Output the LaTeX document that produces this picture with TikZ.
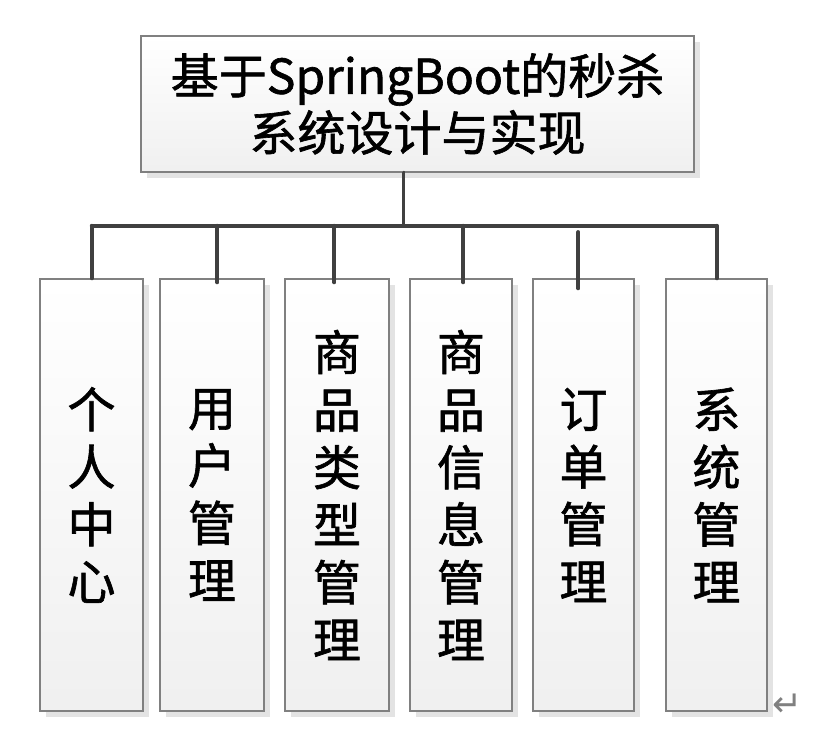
\documentclass[tikz,border=0pt]{standalone}
\usepackage{fontspec}
\setmainfont{Noto Sans CJK SC}
\newfontfamily\cjkb[FakeBold=1.3]{Noto Sans CJK SC}
\newfontfamily\symfont{DejaVu Sans}
\usetikzlibrary{shadows}
\tikzset{
  box/.style={draw=black!50, line width=1.3pt, top color=white, bottom color=black!6,
    drop shadow={shadow xshift=5.5pt, shadow yshift=-5.5pt, fill=black!11, opacity=1},
    inner sep=0pt, align=center, text=black},
  subbox/.style={box, minimum height=432pt,
    font=\cjkb\fontsize{48}{57.5}\selectfont},
  conn/.style={draw=black!75, line width=3.8pt, line cap=round}
}
\begin{document}
\begin{tikzpicture}[x=1pt,y=-1pt]
\useasboundingbox (0,0) rectangle (826,739);
\node[box, minimum width=553pt, minimum height=136pt,
  font=\cjkb\fontsize{48}{57}\selectfont] (top) at (417.5,104) {基于SpringBoot的秒杀\\系统设计与实现};
\node[subbox, minimum width=103pt] (b1) at (91.5,495) {个\\人\\中\\心};
\node[subbox, minimum width=104pt] (b2) at (212,495) {用\\户\\管\\理};
\node[subbox, minimum width=104pt] (b3) at (337,495) {商\\品\\类\\型\\管\\理};
\node[subbox, minimum width=102pt] (b4) at (461,495) {商\\品\\信\\息\\管\\理};
\node[subbox, minimum width=101pt] (b5) at (583.5,495) {订\\单\\管\\理};
\node[subbox, minimum width=101pt] (b6) at (716.5,495) {系\\统\\管\\理};
% bus coordinates
\coordinate (j0) at (403.5,225.7);
\coordinate (j1) at (91.7,225.7);
\coordinate (j2) at (217.3,225.7);
\coordinate (j3) at (334.3,225.7);
\coordinate (j4) at (463.3,225.7);
\coordinate (j5) at (578.3,232);
\coordinate (j6) at (716.7,225.7);
\draw[conn] (top.south -| j0) -- (j0);
\draw[conn] (j1) -- (j6);
\draw[conn] (j1) -- (b1.north -| j1);
\draw[conn] (j2) -- ([yshift=-4pt]b2.north -| j2);
\draw[conn] (j3) -- ([yshift=-4pt]b3.north -| j3);
\draw[conn] (j4) -- ([yshift=-4pt]b4.north -| j4);
\draw[conn] (j5) -- ([yshift=-10pt]b5.north -| j5);
\draw[conn] (j6) -- (b6.north -| j6);
\node[text=black!50, font=\symfont\fontsize{36}{36}\selectfont, inner sep=0pt] (pm) at (788,705) {↵};
\end{tikzpicture}
\end{document}
